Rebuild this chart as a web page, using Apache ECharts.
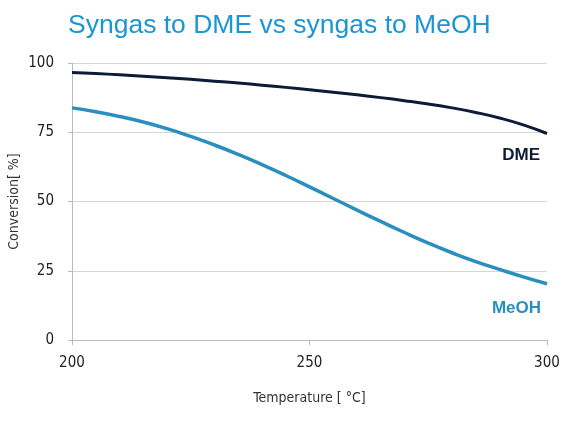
<!DOCTYPE html>
<html>
<head>
<meta charset="utf-8">
<script src="https://cdn.jsdelivr.net/npm/echarts@6/dist/echarts.min.js"></script>
<style>
  html, body { margin: 0; padding: 0; background: #fff; }
  #chart { width: 569px; height: 421px; }
</style>
</head>
<body>
<div id="chart"></div>
<script>
// temperature in degC
var temps = [200, 205, 210, 215, 220, 225, 230, 235, 240, 245, 250,
             255, 260, 265, 270, 275, 280, 285, 290, 295, 300];
// conversion in %
var dme  = [96.6, 96.2, 95.75, 95.25, 94.7, 94.1, 93.45, 92.75, 92.0, 91.2, 90.35,
            89.45, 88.5, 87.5, 86.4, 85.2, 83.8, 82.15, 80.15, 77.65, 74.55];
var meoh = [83.8, 82.4, 80.7, 78.7, 76.3, 73.5, 70.4, 67.0, 63.3, 59.4, 55.3,
            51.1, 46.9, 42.8, 38.8, 35.0, 31.5, 28.3, 25.5, 22.8, 20.3];
var xTicks = [200, 250, 300];
var yTicks = [0, 25, 50, 75, 100];

function pairs(xs, ys) {
    return xs.map(function (x, i) { return [x, ys[i]]; });
}

var axisFont = "'DejaVu Sans Condensed', 'Liberation Sans Narrow', 'Roboto', sans-serif";

var myChart = echarts.init(document.getElementById('chart'));
var option = {
    animation: false,
    title: {
        text: 'Syngas to DME vs syngas to MeOH',
        left: 63,
        top: 7,
        textStyle: {
            color: '#1b95d3',
            fontFamily: "'Liberation Sans', Arial, sans-serif",
            fontWeight: 'normal',
            fontSize: 26.5
        }
    },
    grid: {
        left: 72,
        right: 22,
        top: 63,
        bottom: 81,
        outerBoundsMode: 'none'
    },
    xAxis: {
        type: 'value',
        min: xTicks[0],
        max: xTicks[xTicks.length - 1],
        interval: 50,
        name: 'Temperature [ °C]',
        nameLocation: 'middle',
        nameGap: 51,
        nameMoveOverlap: false,
        nameTextStyle: { color: '#333', fontFamily: axisFont, fontSize: 14 },
        axisLine: { lineStyle: { color: '#bbb' } },
        axisTick: { show: true, length: 5, lineStyle: { color: '#bbb' } },
        axisLabel: { color: '#222', fontFamily: axisFont, fontSize: 15, margin: 16 },
        splitLine: { show: false }
    },
    yAxis: {
        type: 'value',
        min: yTicks[0],
        max: yTicks[yTicks.length - 1],
        interval: 25,
        name: 'Conversion[ %]',
        nameLocation: 'middle',
        nameGap: 51,
        nameMoveOverlap: false,
        nameTextStyle: { color: '#333', fontFamily: axisFont, fontSize: 14 },
        axisLine: { show: true, lineStyle: { color: '#bbb' } },
        axisTick: { show: true, length: 4, lineStyle: { color: '#bbb' } },
        axisLabel: { color: '#222', fontFamily: axisFont, fontSize: 15, margin: 18 },
        splitLine: { lineStyle: { color: '#d6d6d6' } }
    },
    series: [
        {
            name: 'DME',
            type: 'line',
            smooth: true,
            symbol: 'none',
            lineStyle: { color: '#0d1b36', width: 3 },
            data: pairs(temps, dme)
        },
        {
            name: 'MeOH',
            type: 'line',
            smooth: true,
            symbol: 'none',
            lineStyle: { color: '#2a8fbe', width: 3.5 },
            data: pairs(temps, meoh)
        }
    ],
    graphic: [
        {
            type: 'text',
            right: 29,
            top: 147,
            style: {
                text: 'DME',
                fill: '#0d1b36',
                font: "bold 17px 'Liberation Sans', Arial, sans-serif"
            }
        },
        {
            type: 'text',
            right: 28,
            top: 300,
            style: {
                text: 'MeOH',
                fill: '#2a8fbe',
                font: "bold 17px 'Liberation Sans', Arial, sans-serif"
            }
        }
    ]
};
myChart.setOption(option);
</script>
</body>
</html>
